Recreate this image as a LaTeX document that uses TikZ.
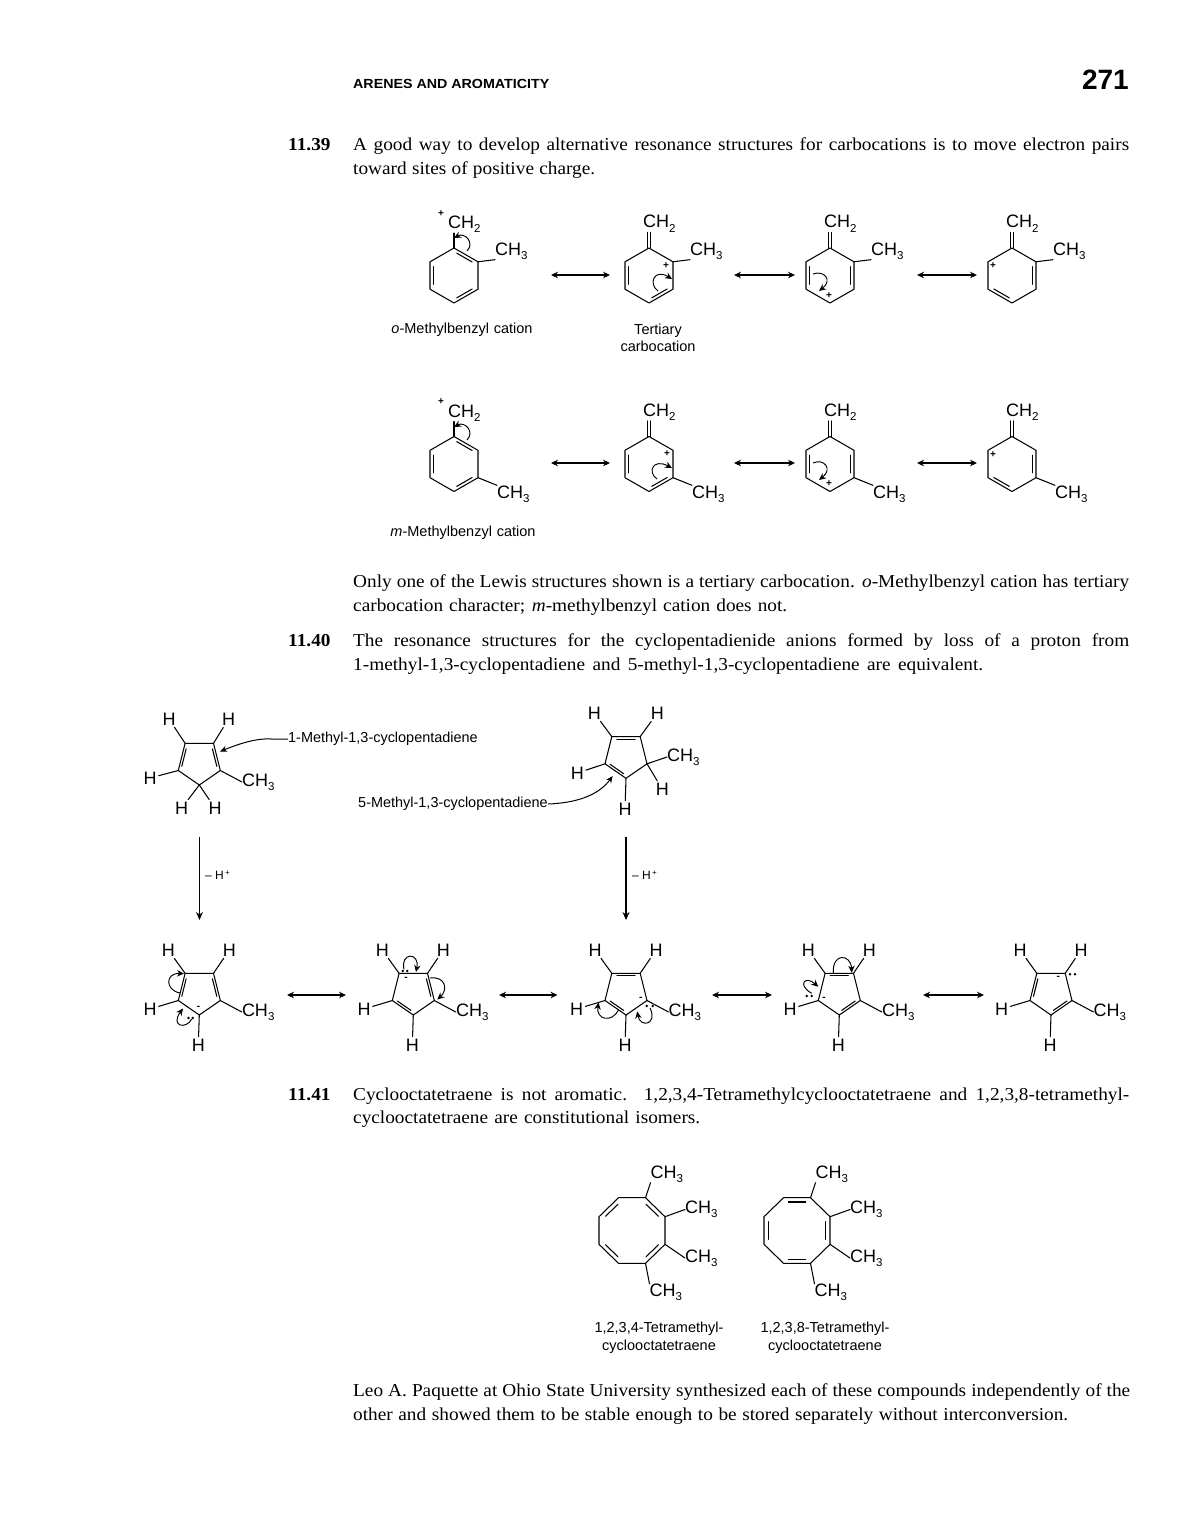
\documentclass[tikz,border=0pt]{standalone}
\usepackage{fontspec}
\setmainfont[FakeStretch=1.06]{Liberation Serif}
\newfontfamily\chemfont{Liberation Sans}
\newfontfamily\headfont[FakeStretch=1.08]{Liberation Sans}
\usetikzlibrary{arrows.meta,calc}
\newcounter{auxnode}
\newcommand{\fs}[1]{\fontsize{#1}{#1}\selectfont}
\newcommand{\CHthree}{CH\raisebox{-.45ex}{\fs{11.5}3}}
\newcommand{\CHtwo}{CH\raisebox{-.45ex}{\fs{11.5}2}}
\tikzset{
 bond/.style={line width=1.05pt,line join=round,line cap=round},
 chemlabel/.style={font=\chemfont\fs{18},inner sep=0pt,yshift=-2pt},
 hatom/.style={font=\chemfont\fs{18},inner sep=2pt},
 caption/.style={font=\chemfont\fs{14.5},inner sep=0pt,align=center,text width=170pt,anchor=base},
 bodyline/.style={anchor=base west,inner sep=0pt,font=\fs{18.2}},
 numberlabel/.style={anchor=base west,inner sep=0pt,font=\bfseries\fs{18.2}},
 resarrow/.style={line width=1.05pt,{Stealth[length=7pt,width=6.5pt]}-{Stealth[length=7pt,width=6.5pt]}},
 rxnarrow/.style={line width=1.05pt,-{Stealth[length=8pt,width=7pt]}},
 curlyarrow/.style={line width=.95pt,-{Stealth[length=7pt,width=6.5pt]}},
 chargemark/.style={font=\chemfont\bfseries\fs{10},inner sep=0pt},
}
% justified body line: name, y baseline, width, text
\newcommand{\bodytext}[4]{\node[bodyline] (#1) at (353,#2) {\makebox[#3pt][s]{#4}};}
% double bond inner line
\newcommand{\dbl}[3]{\draw[bond] ($(#1)!.13!(#2)!.13!(#3)$) -- ($(#2)!.13!(#1)!.13!(#3)$);}
\newcommand{\pluss}[2]{\stepcounter{auxnode}\node[chargemark] (aux\theauxnode) at (#1,#2) {+};}
\newcommand{\minuss}[2]{\stepcounter{auxnode}\node[chargemark] (aux\theauxnode) at (#1,#2) {-};}
\newcommand{\lonepair}[4]{\fill (#1,#2) circle (1.4pt) (#3,#4) circle (1.4pt);}
% curly arrow: start, c1, c2, end
\newcommand{\curly}[4]{\stepcounter{auxnode}%
 \coordinate (cs\theauxnode) at (#1); \coordinate (ce\theauxnode) at (#4);
 \draw[curlyarrow] (cs\theauxnode) .. controls (#2) and (#3) .. (ce\theauxnode);}
% benzene-type ring
\newcommand{\hexring}[3]{%
 \coordinate (#1t) at (#2,#3-27.5); \coordinate (#1ur) at (#2+24,#3-13.7);
 \coordinate (#1lr) at (#2+24,#3+13.7); \coordinate (#1b) at (#2,#3+27.5);
 \coordinate (#1ll) at (#2-24,#3+13.7); \coordinate (#1ul) at (#2-24,#3-13.7);
 \coordinate (#1c) at (#2,#3);
 \draw[bond] (#1t)--(#1ur)--(#1lr)--(#1b)--(#1ll)--(#1ul)--cycle;}
\newcommand{\chtwodbl}[3]{%
 \node[chemlabel,anchor=west] (#1l) at (#2-6,#3-53.8) {\CHtwo};
 \draw[bond] ($(#1t)+(-1.6,0)$) -- ($(#1t |- #1l.south)+(-1.6,0)$);
 \draw[bond] ($(#1t)+(1.6,0)$) -- ($(#1t |- #1l.south)+(1.6,0)$);}
\newcommand{\chtwosgl}[3]{%
 \node[chemlabel,anchor=west] (#1l) at (#2-6,#3-53) {\CHtwo};
 \draw[bond] (#1t) -- (#1t |- #1l.south);}
\newcommand{\orthome}[3]{%
 \node[chemlabel,anchor=west] (#1m) at (#2+41,#3-26.5) {\CHthree};
 \draw[bond] (#1ur) -- (#1m.south west);}
\newcommand{\metame}[3]{%
 \node[chemlabel,anchor=west] (#1m) at (#2+43,#3+28) {\CHthree};
 \draw[bond] (#1lr) -- (#1m.north west);}
% five-membered ring: name, x and y of bottom vertex
\newcommand{\cpring}[3]{%
 \coordinate (#1tl) at (#2-14.2,#3-41.7); \coordinate (#1tr) at (#2+14.2,#3-41.7);
 \coordinate (#1r) at (#2+21,#3-14.5); \coordinate (#1b) at (#2,#3);
 \coordinate (#1l) at (#2-21,#3-14.5); \coordinate (#1c) at (#2,#3-23);
 \draw[bond] (#1tl)--(#1tr)--(#1r)--(#1b)--(#1l)--cycle;}
% bottom row substituents
\newcommand{\cphs}[2]{%
 \node[hatom] (#1ha) at (#2-31,950) {H}; \node[hatom] (#1hb) at (#2+30,950) {H};
 \node[hatom] (#1hc) at (#2-49.3,1009) {H}; \node[hatom] (#1hd) at (#2-1,1045) {H};
 \node[chemlabel,anchor=west] (#1m) at (#2+42.5,1010) {\CHthree};
 \draw[bond] (#1tl)--(#1ha); \draw[bond] (#1tr)--(#1hb); \draw[bond] (#1l)--(#1hc);
 \draw[bond] (#1b)--(#1hd); \draw[bond] (#1r)--(#1m.west);}
% eight-membered ring
\newcommand{\octring}[3]{%
 \coordinate (#1a) at (#2+13.5,#3-32.8); \coordinate (#1b) at (#2+33,#3-13.8);
 \coordinate (#1d) at (#2+33,#3+13.8); \coordinate (#1e) at (#2+13.5,#3+32.8);
 \coordinate (#1f) at (#2-13.5,#3+32.8); \coordinate (#1g) at (#2-33,#3+13.8);
 \coordinate (#1h) at (#2-33,#3-13.8); \coordinate (#1i) at (#2-13.5,#3-32.8);
 \coordinate (#1c) at (#2,#3);
 \draw[bond] (#1a)--(#1b)--(#1d)--(#1e)--(#1f)--(#1g)--(#1h)--(#1i)--cycle;
 \node[chemlabel,anchor=west] (#1ma) at (#2+18.5,#3-58.5) {\CHthree};
 \node[chemlabel,anchor=west] (#1mb) at (#2+53,#3-23) {\CHthree};
 \node[chemlabel,anchor=west] (#1mc) at (#2+53,#3+25.5) {\CHthree};
 \node[chemlabel,anchor=west] (#1md) at (#2+17.5,#3+60) {\CHthree};
 \draw[bond] (#1a)--(#1ma.south west); \draw[bond] (#1b)--(#1mb.west);
 \draw[bond] (#1d)--(#1mc.west); \draw[bond] (#1e)--(#1md.north west);}
\newcommand{\resarrow}[3]{\stepcounter{auxnode}%
 \coordinate (ra\theauxnode) at (#1,#3); \coordinate (rb\theauxnode) at (#2,#3);
 \draw[resarrow] (ra\theauxnode) -- (rb\theauxnode);}
\begin{document}
\begin{tikzpicture}[x=1pt,y=-1pt]
\useasboundingbox (0,0) rectangle (1200,1536);
\fill[white] (0,0) rectangle (1200,1536);
% header
\node[anchor=base west,inner sep=0pt,font=\headfont\bfseries\fs{13.2}] (header) at (353,89) {ARENES AND AROMATICITY};
\node[anchor=base east,inner sep=0pt,font=\chemfont\bfseries\fs{28}] (pageno) at (1129,90) {271};
% text 11.39
\node[numberlabel] (n39) at (288,150) {11.39};
\bodytext{t39a}{150}{776}{A good way to develop alternative resonance structures for carbocations is to move electron pairs}
\bodytext{t39b}{174}{242}{toward sites of positive charge.}
% row 1
\hexring{a}{454}{275.5} \chtwosgl{a}{454}{275.5} \orthome{a}{454}{275.5}
\dbl{at}{aur}{ac}\dbl{aul}{all}{ac}\dbl{alr}{ab}{ac}
\pluss{441}{214}
\curly{467,251}{475,243}{465,232}{454,238}
\hexring{b}{649}{275.5} \chtwodbl{b}{649}{275.5} \orthome{b}{649}{275.5}
\dbl{bul}{bll}{bc}\dbl{blr}{bb}{bc}
\pluss{666}{266}
\curly{658,291}{648,284}{654,268}{672,279}
\hexring{c}{830}{275.5} \chtwodbl{c}{830}{275.5} \orthome{c}{830}{275.5}
\dbl{cul}{cll}{cc}\dbl{cur}{clr}{cc}
\pluss{829}{296}
\curly{813,274}{824,270}{833,280}{819,291}
\hexring{d}{1012}{275.5} \chtwodbl{d}{1012}{275.5} \orthome{d}{1012}{275.5}
\dbl{dur}{dlr}{dc}\dbl{dll}{db}{dc}
\pluss{993}{266}
\resarrow{551}{610}{275}\resarrow{734}{795}{275}\resarrow{917}{977}{275}
\node[caption] (cap1) at (462,333) {\textit{o}-Methylbenzyl cation};
\node[caption] (cap2) at (658,334) {Tertiary};
\node[caption] (cap3) at (658,351) {carbocation};
% row 2
\hexring{e}{454}{464} \chtwosgl{e}{454}{464} \metame{e}{454}{464}
\dbl{et}{eur}{ec}\dbl{eul}{ell}{ec}\dbl{elr}{eb}{ec}
\pluss{441}{402}
\curly{467,440}{475,432}{465,421}{454,427}
\hexring{f}{649}{464} \chtwodbl{f}{649}{464} \metame{f}{649}{464}
\dbl{ful}{fll}{fc}\dbl{flr}{fb}{fc}
\pluss{667}{454}
\curly{657,479}{647,472}{653,458}{672,468}
\hexring{g}{830}{464} \chtwodbl{g}{830}{464} \metame{g}{830}{464}
\dbl{gul}{gll}{gc}\dbl{gur}{glr}{gc}
\pluss{829}{484}
\curly{813,463}{824,458}{833,469}{819,480}
\hexring{h}{1012}{464} \chtwodbl{h}{1012}{464} \metame{h}{1012}{464}
\dbl{hur}{hlr}{hc}\dbl{hll}{hb}{hc}
\pluss{993}{455}
\resarrow{551}{610}{463}\resarrow{734}{795}{463}\resarrow{917}{977}{463}
\node[caption] (cap4) at (463,536) {\textit{m}-Methylbenzyl cation};
% text
\bodytext{t39c}{587}{776}{Only one of the Lewis structures shown is a tertiary carbocation. \textit{o}-Methylbenzyl cation has tertiary}
\bodytext{t39d}{611}{434}{carbocation character; \textit{m}-methylbenzyl cation does not.}
\node[numberlabel] (n40) at (288,646) {11.40};
\bodytext{t40a}{646}{776}{The resonance structures for the cyclopentadienide anions formed by loss of a proton from}
\bodytext{t40b}{670}{630}{1-methyl-1,3-cyclopentadiene and 5-methyl-1,3-cyclopentadiene are equivalent.}
% 1-methyl-1,3-cyclopentadiene
\cpring{p}{199.3}{785}
\dbl{ptl}{pl}{pc}\dbl{ptr}{pr}{pc}
\node[hatom] (pha) at (169,719) {H}; \node[hatom] (phb) at (228.5,719) {H};
\node[hatom] (phc) at (150,778) {H}; \node[hatom] (phd) at (181.7,808) {H};
\node[hatom] (phe) at (215,808) {H};
\node[chemlabel,anchor=west] (pm) at (242,780) {\CHthree};
\draw[bond] (ptl)--(pha); \draw[bond] (ptr)--(phb); \draw[bond] (pl)--(phc);
\draw[bond] (pb)--(phd); \draw[bond] (pb)--(phe); \draw[bond] (pr)--(pm.west);
\node[anchor=west,inner sep=0pt,font=\chemfont\fs{14.45}] (lab1) at (288,739) {1-Methyl-1,3-cyclopentadiene};
\coordinate (lab1tip) at (220,751.5);
\draw[line width=1pt,-{Stealth[length=7pt,width=6pt]}] (lab1.west) -- ($(lab1.west)+(-17,0)$) .. controls (255,738) and (236,745) .. (lab1tip);
% 5-methyl-1,3-cyclopentadiene
\cpring{q}{626}{778.3}
\dbl{qtl}{qtr}{qc}\dbl{ql}{qb}{qc}
\node[hatom] (qha) at (594.3,713) {H}; \node[hatom] (qhb) at (657.3,713) {H};
\node[hatom] (qhc) at (577.3,773) {H}; \node[hatom] (qhd) at (662.3,789.3) {H};
\node[hatom] (qhe) at (625,809) {H};
\node[chemlabel,anchor=west] (qm) at (667,755) {\CHthree};
\draw[bond] (qtl)--(qha); \draw[bond] (qtr)--(qhb); \draw[bond] (ql)--(qhc);
\draw[bond] (qr)--(qhd); \draw[bond] (qb)--(qhe); \draw[bond] (qr)--(qm.west);
\node[anchor=east,inner sep=0pt,font=\chemfont\fs{14.45}] (lab2) at (548,804) {5-Methyl-1,3-cyclopentadiene};
\coordinate (lab2tip) at (612.7,776);
\draw[line width=1pt,-{Stealth[length=7pt,width=6pt]}] (lab2.east) .. controls (575,803) and (598,796) .. (lab2tip);
% reaction arrows
\coordinate (rx1a) at (199.5,837); \coordinate (rx1b) at (199.5,920);
\draw[rxnarrow] (rx1a) -- (rx1b);
\node[anchor=west,inner sep=0pt,font=\chemfont\fs{12}] (rx1l) at (205,875) {– H\raisebox{.7ex}{\fs{8}\,+}};
\coordinate (rx2a) at (626,837); \coordinate (rx2b) at (626,920);
\draw[rxnarrow] (rx2a) -- (rx2b);
\node[anchor=west,inner sep=0pt,font=\chemfont\fs{12}] (rx2l) at (632,875) {– H\raisebox{.7ex}{\fs{8}\,+}};
% bottom row
\cpring{s}{199.3}{1015}\cphs{s}{199.3}
\dbl{stl}{sl}{sc}\dbl{str}{sr}{sc}
\minuss{198.5}{1008}\lonepair{188.5}{1018}{192.7}{1018}
\curly{180,993}{165,990}{165,973}{184,973.5}
\curly{191.7,1019}{186,1030}{170,1026}{183,1008.5}
\cpring{u}{413.3}{1015}\cphs{u}{413.3}
\dbl{utr}{ur}{uc}\dbl{ul}{ub}{uc}
\minuss{406}{979}\lonepair{402.7}{971}{407.3}{971}
\curly{404,969.5}{400,952}{420,952}{416,972}
\curly{430,978}{446,976}{448,990}{437.3,999.5}
\cpring{v}{626}{1015}\cphs{v}{626}
\dbl{vtl}{vtr}{vc}\dbl{vl}{vb}{vc}
\minuss{640.7}{999}\lonepair{646.7}{1006}{652.7}{1006}
\curly{618.5,1010}{612,1023}{596,1020}{598.5,1002.5}
\curly{650,1008}{658,1025}{640,1028}{637.3,1011.5}
\cpring{w}{839.3}{1015}\cphs{w}{839.3}
\dbl{wtl}{wtr}{wc}\dbl{wr}{wb}{wc}
\minuss{824}{998.5}\lonepair{806.7}{996}{811.7}{996}
\curly{811.7,993.3}{797,985}{805,975}{818.3,986.7}
\curly{833.3,973.3}{832,952}{851,954}{851.7,972.7}
\cpring{z}{1051}{1015}\cphs{z}{1051}
\dbl{ztl}{zl}{zc}\dbl{zr}{zb}{zc}
\minuss{1058.3}{977.7}\lonepair{1070}{974.3}{1075}{974.3}
\resarrow{287}{346}{995}\resarrow{499}{557.5}{995}\resarrow{712}{772}{995}\resarrow{923}{984}{995}
% text 11.41
\node[numberlabel] (n41) at (288,1100) {11.41};
\bodytext{t41a}{1100}{776}{Cyclooctatetraene is not aromatic. 1,2,3,4-Tetramethylcyclooctatetraene and 1,2,3,8-tetramethyl-}
\bodytext{t41b}{1123}{347}{cyclooctatetraene are constitutional isomers.}
% cyclooctatetraenes
\octring{k}{632}{1230.5}
\dbl{ka}{kb}{kc}\dbl{kd}{ke}{kc}\dbl{kf}{kg}{kc}\dbl{kh}{ki}{kc}
\octring{m}{797}{1230.5}
\dbl{mi}{ma}{mc}\dbl{mb}{md}{mc}\dbl{me}{mf}{mc}\dbl{mg}{mh}{mc}
\node[caption] (cap5) at (659,1332) {1,2,3,4-Tetramethyl-};
\node[caption] (cap6) at (659,1350) {cyclooctatetraene};
\node[caption] (cap7) at (825,1332) {1,2,3,8-Tetramethyl-};
\node[caption] (cap8) at (825,1350) {cyclooctatetraene};
% closing text
\bodytext{t41c}{1396}{777}{Leo A. Paquette at Ohio State University synthesized each of these compounds independently of the}
\bodytext{t41d}{1420}{715}{other and showed them to be stable enough to be stored separately without interconversion.}
\end{tikzpicture}
\end{document}
